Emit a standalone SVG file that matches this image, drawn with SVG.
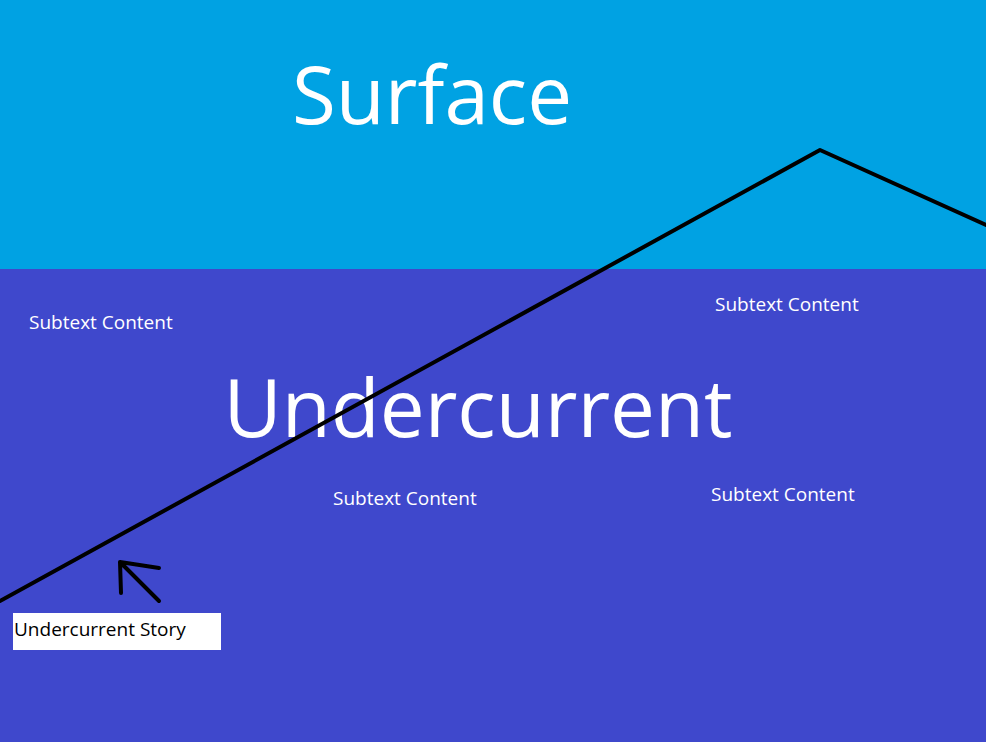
<svg xmlns="http://www.w3.org/2000/svg" width="986" height="742" viewBox="0 0 986 742">
<style>
.sub{font-family:"Open Sans","Liberation Sans",sans-serif;font-size:19px;fill:#fff}
.big{font-family:"Open Sans","Liberation Sans",sans-serif;fill:#fff}
.ln{fill:none;stroke:#000;stroke-width:4;stroke-linecap:round;stroke-linejoin:round}
</style>
<g id="surface"><rect x="0" y="0" width="986" height="269" fill="#00A2E3"/><text class="big" x="432" y="124" font-size="80" text-anchor="middle">Surface</text></g>
<g id="undercurrent"><rect x="0" y="269" width="986" height="473" fill="#3F48CC"/><text class="big" x="478" y="437" font-size="80" text-anchor="middle">Undercurrent</text></g>
<g id="sub1"><text class="sub" x="29" y="329">Subtext Content</text></g>
<g id="sub2"><text class="sub" x="715" y="311">Subtext Content</text></g>
<g id="sub3"><text class="sub" x="333" y="505">Subtext Content</text></g>
<g id="sub4"><text class="sub" x="711" y="501">Subtext Content</text></g>
<g id="story"><rect x="13" y="613" width="208" height="37" fill="#fff"/><text x="14" y="636" font-family="Open Sans,Liberation Sans,sans-serif" font-size="19" fill="#000">Undercurrent Story</text></g>
<g id="connectors">
<polyline class="ln" points="0,601 820,150 986,225"/>
<path class="ln" d="M159,601 L120,562 M120,562 L121,593 M120,562 L159,568"/>
</g>
</svg>
